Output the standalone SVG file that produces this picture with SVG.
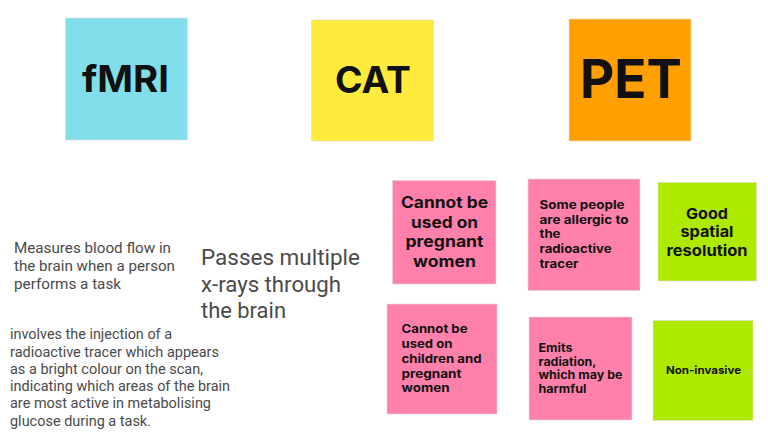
<svg xmlns="http://www.w3.org/2000/svg" width="768" height="433" viewBox="0 0 768 433">
<style>
.note{stroke:#dcdcdc;stroke-width:.6}
.b{font-family:"Inter","Liberation Sans",sans-serif;font-weight:700;fill:#111}
.m{text-anchor:middle}
.r{font-family:"Roboto","Liberation Sans",sans-serif;fill:#4a4a4a}
</style>
<rect width="768" height="433" fill="#fff"/>
<g id="fmri"><rect class="note" x="65.5" y="18" width="122" height="122" fill="#80deea"/><text class="b" x="82" y="92" font-size="37" textLength="87" lengthAdjust="spacingAndGlyphs">fMRI</text></g>
<g id="cat"><rect class="note" x="311.5" y="20" width="122" height="121" fill="#ffeb3b"/><text class="b" x="335" y="93" font-size="37" textLength="76" lengthAdjust="spacingAndGlyphs">CAT</text></g>
<g id="pet"><rect class="note" x="569" y="19" width="122" height="122" fill="#ff9f00"/><text class="b" x="580" y="98" font-size="53" textLength="102" lengthAdjust="spacingAndGlyphs">PET</text></g>
<g id="desc-fmri" class="r" font-size="14.5"><text x="14" y="253" textLength="157" lengthAdjust="spacingAndGlyphs">Measures blood flow in</text><text x="14" y="271" textLength="161" lengthAdjust="spacingAndGlyphs">the brain when a person</text><text x="14" y="289" textLength="107" lengthAdjust="spacingAndGlyphs">performs a task</text></g>
<g id="desc-cat" class="r" font-size="22.5"><text x="201" y="265" textLength="159" lengthAdjust="spacingAndGlyphs">Passes multiple</text><text x="201" y="292" textLength="140" lengthAdjust="spacingAndGlyphs">x-rays through</text><text x="201" y="318" textLength="85" lengthAdjust="spacingAndGlyphs">the brain</text></g>
<g id="desc-pet" class="r" font-size="14"><text x="10" y="339" textLength="162" lengthAdjust="spacingAndGlyphs">involves the injection of a</text><text x="10" y="357" textLength="209" lengthAdjust="spacingAndGlyphs">radioactive tracer which appears</text><text x="10" y="374" textLength="193" lengthAdjust="spacingAndGlyphs">as a bright colour on the scan,</text><text x="10" y="391" textLength="220" lengthAdjust="spacingAndGlyphs">indicating which areas of the brain</text><text x="10" y="408" textLength="201" lengthAdjust="spacingAndGlyphs">are most active in metabolising</text><text x="10" y="426" textLength="141" lengthAdjust="spacingAndGlyphs">glucose during a task.</text></g>
<g id="pink-1"><rect class="note" x="392.5" y="180.5" width="103.5" height="103.5" fill="#ff80ab"/><g class="b m" font-size="15.5"><text x="444.5" y="208" textLength="87" lengthAdjust="spacingAndGlyphs">Cannot be</text><text x="444.5" y="228" textLength="67" lengthAdjust="spacingAndGlyphs">used on</text><text x="444.5" y="247" textLength="78" lengthAdjust="spacingAndGlyphs">pregnant</text><text x="444.5" y="267" textLength="63" lengthAdjust="spacingAndGlyphs">women</text></g></g>
<g id="pink-2"><rect class="note" x="528" y="179" width="112" height="111.500" fill="#ff80ab"/><g class="b" font-size="12"><text x="539.500" y="209" textLength="85" lengthAdjust="spacingAndGlyphs">Some people</text><text x="539.500" y="224" textLength="89" lengthAdjust="spacingAndGlyphs">are allergic to</text><text x="539.500" y="238" textLength="21" lengthAdjust="spacingAndGlyphs">the</text><text x="539.500" y="253" textLength="72" lengthAdjust="spacingAndGlyphs">radioactive</text><text x="539.500" y="268" textLength="39" lengthAdjust="spacingAndGlyphs">tracer</text></g></g>
<g id="green-1"><rect class="note" x="658" y="182.500" width="98.500" height="98.500" fill="#aeea00"/><g class="b m" font-size="15"><text x="707" y="219" textLength="42" lengthAdjust="spacingAndGlyphs">Good</text><text x="707" y="237" textLength="53" lengthAdjust="spacingAndGlyphs">spatial</text><text x="707" y="256" textLength="81" lengthAdjust="spacingAndGlyphs">resolution</text></g></g>
<g id="pink-3"><rect class="note" x="387" y="304" width="110" height="110" fill="#ff80ab"/><g class="b" font-size="12"><text x="401.500" y="333" textLength="66" lengthAdjust="spacingAndGlyphs">Cannot be</text><text x="401.500" y="348" textLength="51" lengthAdjust="spacingAndGlyphs">used on</text><text x="401.500" y="363" textLength="80" lengthAdjust="spacingAndGlyphs">children and</text><text x="401.500" y="378" textLength="60" lengthAdjust="spacingAndGlyphs">pregnant</text><text x="401.500" y="392" textLength="48" lengthAdjust="spacingAndGlyphs">women</text></g></g>
<g id="pink-4"><rect class="note" x="529" y="317" width="103" height="103" fill="#ff80ab"/><g class="b" font-size="11.500"><text x="538.500" y="352" textLength="34" lengthAdjust="spacingAndGlyphs">Emits</text><text x="538.500" y="366" textLength="58" lengthAdjust="spacingAndGlyphs">radiation,</text><text x="538.500" y="379" textLength="84" lengthAdjust="spacingAndGlyphs">which may be</text><text x="538.500" y="393" textLength="48" lengthAdjust="spacingAndGlyphs">harmful</text></g></g>
<g id="green-2"><rect class="note" x="653" y="320.500" width="100" height="100" fill="#aeea00"/><text class="b m" x="703.500" y="374" font-size="11" textLength="75" lengthAdjust="spacingAndGlyphs">Non-invasive</text></g>
</svg>
